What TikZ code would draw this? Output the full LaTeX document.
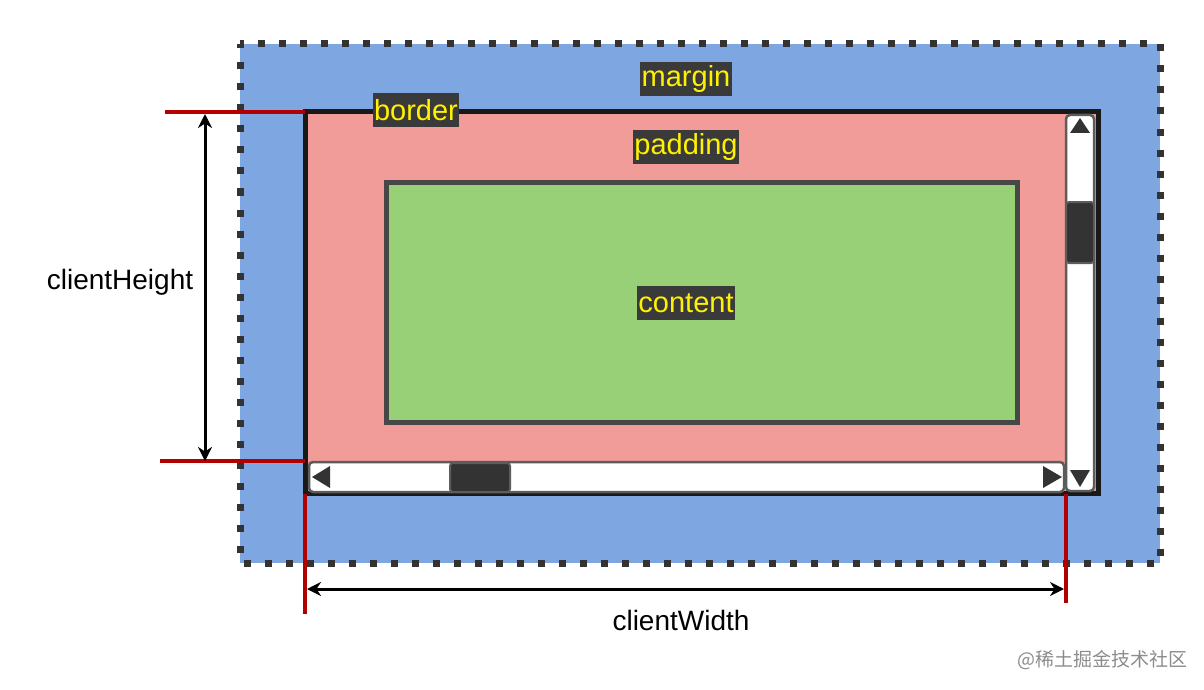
\documentclass[tikz,border=0pt]{standalone}
\usepackage{fontspec}
\setmainfont{Liberation Sans}
\newfontfamily\cjk{Noto Sans CJK SC}
\usetikzlibrary{arrows.meta}
\definecolor{marginblue}{HTML}{7EA6E0}
\definecolor{padpink}{HTML}{F19C99}
\definecolor{contgreen}{HTML}{97D077}
\definecolor{darkg}{HTML}{333333}
\definecolor{redl}{HTML}{B20000}
\definecolor{lblbg}{HTML}{3A3A3A}
\tikzset{
  lbl/.style={fill=lblbg, text=yellow, font=\fontsize{29}{32}\selectfont, inner xsep=1.5pt, inner ysep=0pt, minimum height=34pt},
  dim/.style={font=\fontsize{28}{31}\selectfont},
  redline/.style={draw=redl, line width=4pt},
  measure/.style={draw=black, line width=3pt, {Stealth[length=14pt,width=14pt]}-{Stealth[length=14pt,width=14pt]}},
  sbar/.style={fill=white, draw=darkg!80, line width=2.5pt, rounded corners=4pt},
  thumb/.style={fill=darkg, draw=darkg!80, line width=2pt, rounded corners=3pt},
  tri/.style={fill=darkg}
}
\begin{document}
\begin{tikzpicture}[x=1pt,y=-1pt]
\useasboundingbox (0,0) rectangle (1204,690);
% margin
\fill[marginblue] (240,44) rectangle (1160,563);
\draw[darkg, line width=7pt, dash pattern=on 7pt off 14pt, dash phase=3.5pt] (240,44) -- (1160,44) -- (1160,563) -- (240,563) -- cycle;
% border / padding
\draw[fill=padpink, draw=black!90, line width=5pt] (305,112) rectangle (1098,493);
% content
\draw[fill=contgreen, draw=darkg!90, line width=5pt] (386,182) rectangle (1017,422);
% vertical scrollbar
\draw[sbar] (1066,115) rectangle (1094,491);
\draw[thumb] (1066,202) rectangle (1094,263);
\fill[tri] (1080,118) -- (1090,133) -- (1070,133) -- cycle;
\fill[tri] (1070,470) -- (1090,470) -- (1080,487) -- cycle;
% horizontal scrollbar
\draw[sbar] (309,462) rectangle (1064,492);
\draw[thumb] (450,463) rectangle (510,492);
\fill[tri] (312,477) -- (330,466) -- (330,488) -- cycle;
\fill[tri] (1062,477) -- (1043,466) -- (1043,488) -- cycle;
% red measuring lines
\coordinate (topL) at (165,112);
\coordinate (topR) at (305,112);
\coordinate (botL) at (160,461);
\coordinate (botR) at (305,461);
\coordinate (lftT) at (305,494);
\coordinate (lftB) at (305,614);
\coordinate (rgtT) at (1066,494);
\coordinate (rgtB) at (1066,603);
\draw[redline] (topL) -- (topR);
\draw[redline] (botL) -- (botR);
\draw[redline] (lftT) -- (lftB);
\draw[redline] (rgtT) -- (rgtB);
% arrows
\coordinate (hA) at (205,114);
\coordinate (hB) at (205,461);
\coordinate (wA) at (307,589);
\coordinate (wB) at (1064,589);
\draw[measure] (hA) -- (hB);
\draw[measure] (wA) -- (wB);
% labels
\node[dim] (ch) at (120,282) {clientHeight};
\node[dim] (cw) at (681,620) {clientWidth};
\node[lbl] (lm) at (686,79) {margin};
\node[lbl] (lb) at (416,110) {border};
\node[lbl] (lp) at (686,147) {padding};
\node[lbl] (lc) at (686,303) {content};
\node[text=black!45, font=\cjk\fontsize{19}{22}\selectfont] (wm) at (1102,660) {@稀土掘金技术社区};
\end{tikzpicture}
\end{document}
